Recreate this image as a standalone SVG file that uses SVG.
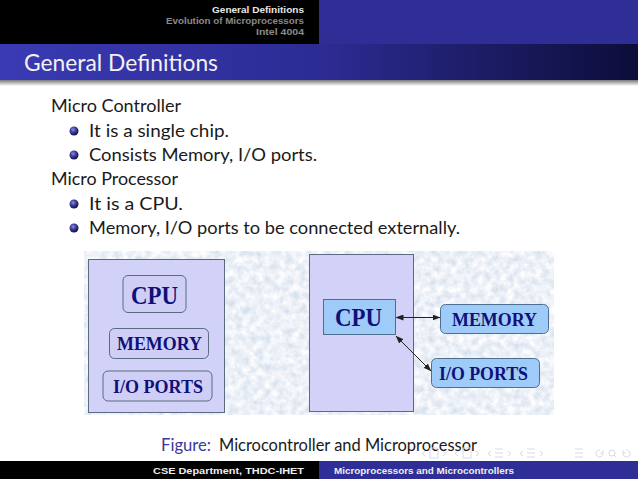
<svg xmlns="http://www.w3.org/2000/svg" width="638" height="479" viewBox="0 0 638 479">
<defs>
<linearGradient id="title" x1="0" x2="1" y1="0" y2="0"><stop offset="0" stop-color="#3a3ab4"/><stop offset="0.5" stop-color="#2c2c94"/><stop offset="1" stop-color="#0d0d3a"/></linearGradient>
<linearGradient id="shadow" x1="0" x2="0" y1="0" y2="1"><stop offset="0" stop-color="#777"/><stop offset="1" stop-color="#fff"/></linearGradient>
<radialGradient id="ball" cx="0.4" cy="0.35" r="0.65"><stop offset="0" stop-color="#8c8cdc"/><stop offset="0.5" stop-color="#3a3a9c"/><stop offset="1" stop-color="#14143c"/></radialGradient>
<filter id="paper" x="0" y="0" width="1" height="1"><feTurbulence type="fractalNoise" baseFrequency="0.14" numOctaves="4" seed="7"/><feColorMatrix values="0.55 0 0 0 0.57  0.4 0 0 0 0.68  0.25 0 0 0 0.81  0 0 0 0 1"/></filter>
<marker id="arrowEnd" viewBox="0 0 8 6" refX="7.5" refY="3" markerWidth="8" markerHeight="6" orient="auto"><path d="M0 0L8 3L0 6Z" fill="#222"/></marker>
<marker id="arrowStart" viewBox="0 0 8 6" refX="0.5" refY="3" markerWidth="8" markerHeight="6" orient="auto"><path d="M8 0L0 3L8 6Z" fill="#222"/></marker>
</defs>
<style>
.s{font-family:"Liberation Sans",Arial,sans-serif}
.l{font-family:Lato,"Open Sans",sans-serif}
.body{font-size:18px;fill:#1a1a1a}
.nav{font-size:9.5px;font-weight:bold}
.foot{font-size:9.5px;font-weight:bold;fill:#eee}
.r{font-family:"Liberation Serif","Times New Roman",serif;font-weight:bold;fill:#10107a}
.panel{fill:#d2d2f8;stroke:#5a6a80;stroke-width:1}
.lbox{fill:#cfcff6;stroke:#5a6a80;stroke-width:1}
.bbox{fill:#9fcbf8;stroke:#4f6f90;stroke-width:1}
.icon{fill:none;stroke:#d8d8e6;stroke-width:1}
</style>

<rect x="0" y="0" width="319" height="44" fill="#000"/>
<rect x="319" y="0" width="319" height="44" fill="#2e2e96"/>
<text class="s nav" x="212" y="13" fill="#e8e8e8" textLength="92" lengthAdjust="spacingAndGlyphs">General Definitions</text>
<text class="s nav" x="166" y="24" fill="#8a8a8a" textLength="138" lengthAdjust="spacingAndGlyphs">Evolution of Microprocessors</text>
<text class="s nav" x="256" y="35" fill="#8a8a8a" textLength="48" lengthAdjust="spacingAndGlyphs">Intel 4004</text>

<rect x="0" y="44" width="638" height="36" fill="url(#title)"/>
<rect x="0" y="80" width="638" height="6" fill="url(#shadow)"/>
<text class="l" x="24" y="71" font-size="24" fill="#f2f2f2" textLength="194" lengthAdjust="spacingAndGlyphs">General Definitions</text>

<text class="l body" x="51" y="112" textLength="130" lengthAdjust="spacingAndGlyphs">Micro Controller</text>
<circle cx="74" cy="131" r="4.500" fill="url(#ball)"/>
<text class="l body" x="89" y="137" textLength="140" lengthAdjust="spacingAndGlyphs">It is a single chip.</text>
<circle cx="74" cy="155" r="4.500" fill="url(#ball)"/>
<text class="l body" x="89" y="161" textLength="228" lengthAdjust="spacingAndGlyphs">Consists Memory, I/O ports.</text>
<text class="l body" x="51" y="185" textLength="127" lengthAdjust="spacingAndGlyphs">Micro Processor</text>
<circle cx="74" cy="204" r="4.500" fill="url(#ball)"/>
<text class="l body" x="89" y="210" textLength="94" lengthAdjust="spacingAndGlyphs">It is a CPU.</text>
<circle cx="74" cy="228" r="4.500" fill="url(#ball)"/>
<text class="l body" x="89" y="234" textLength="371" lengthAdjust="spacingAndGlyphs">Memory, I/O ports to be connected externally.</text>

<rect x="84" y="251" width="470" height="164" filter="url(#paper)"/>

<g id="microcontroller"><rect class="panel" x="88.500" y="259.500" width="136" height="153"/></g>
<g id="mc-cpu"><rect class="lbox" x="123" y="275.500" width="63" height="37" rx="5"/><text class="r" x="131" y="304" font-size="25" textLength="47" lengthAdjust="spacingAndGlyphs">CPU</text></g>
<g id="mc-memory"><rect class="lbox" x="109.500" y="328.500" width="99" height="30" rx="5"/><text class="r" x="117" y="350" font-size="18" textLength="85" lengthAdjust="spacingAndGlyphs">MEMORY</text></g>
<g id="mc-io"><rect class="lbox" x="103" y="371" width="109" height="30" rx="5"/><text class="r" x="113" y="392.500" font-size="18" textLength="90" lengthAdjust="spacingAndGlyphs">I/O PORTS</text></g>

<g id="microprocessor"><rect class="panel" x="309.500" y="254.500" width="104" height="157"/></g>
<g id="mp-cpu"><rect class="bbox" x="323.500" y="299.500" width="72" height="35"/><text class="r" x="335" y="326" font-size="25.500" textLength="47" lengthAdjust="spacingAndGlyphs">CPU</text></g>
<g id="mp-memory"><rect class="bbox" x="440.500" y="304.500" width="108" height="29" rx="5"/><text class="r" x="452" y="325.500" font-size="18" textLength="85" lengthAdjust="spacingAndGlyphs">MEMORY</text></g>
<g id="mp-io"><rect class="bbox" x="431.500" y="358.500" width="108" height="29" rx="5"/><text class="r" x="439" y="379.500" font-size="18" textLength="89" lengthAdjust="spacingAndGlyphs">I/O PORTS</text></g>

<g id="connectors" fill="none" stroke="#222" stroke-width="1">
<path d="M396 317.500H440" marker-start="url(#arrowStart)" marker-end="url(#arrowEnd)"/>
<path d="M396 336L431 371" marker-start="url(#arrowStart)" marker-end="url(#arrowEnd)"/>
</g>

<text class="l" x="161" y="451" font-size="17" fill="#3a3a9c" textLength="50" lengthAdjust="spacingAndGlyphs">Figure:</text>
<text class="l" x="219" y="451" font-size="17" fill="#1a1a1a" textLength="258" lengthAdjust="spacingAndGlyphs">Microcontroller and Microprocessor</text>

<g class="icon" transform="translate(0 -2)">
<path d="M425 453l-3 2.500l3 2.500M430 450h8v10h-8zM443 453l3 2.500l-3 2.500"/>
<path d="M458 453l-3 2.500l3 2.500M463 450h8v10h-8zM476 453l3 2.500l-3 2.500"/>
<path d="M491 453l-3 2.500l3 2.500M495 451h8M495 455h8M495 459h8M508 453l3 2.500l-3 2.500"/>
<path d="M523 453l-3 2.500l3 2.500M527 451h8M527 455h8M527 459h8M540 453l3 2.500l-3 2.500"/>
<path d="M575 451h8M575 455h8M575 459h8"/>
<path d="M600 452a3.500 3.500 0 1 0 3 3M603 452v3h-3"/>
<circle cx="612" cy="455" r="3"/><path d="M614 457l2 2"/>
<path d="M626 452a3.500 3.500 0 1 1 -3 3M623 452v3h3"/>
</g>

<rect x="0" y="461" width="319" height="18" fill="#000"/>
<rect x="319" y="461" width="319" height="18" fill="#2e2e96"/>
<text class="s foot" x="153" y="474" textLength="151" lengthAdjust="spacingAndGlyphs">CSE Department, THDC-IHET</text>
<text class="s foot" x="334" y="474" textLength="180" lengthAdjust="spacingAndGlyphs">Microprocessors and Microcontrollers</text>
</svg>
